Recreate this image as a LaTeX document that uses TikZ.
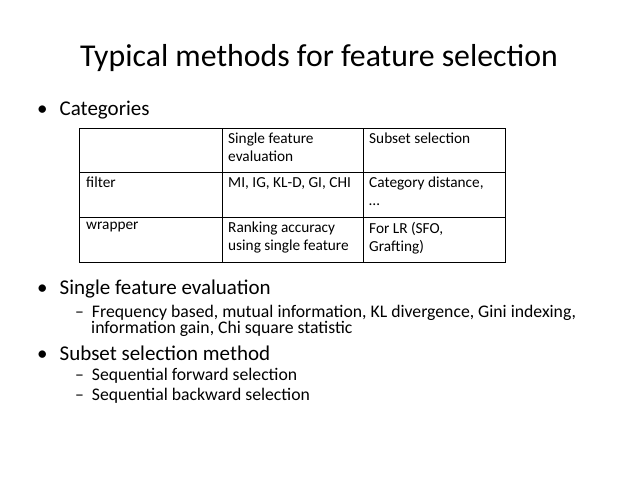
\documentclass[tikz,border=0pt]{standalone}
\usepackage{fontspec}
\setmainfont{Carlito}
\usetikzlibrary{positioning}

\begin{document}
\begin{tikzpicture}[x=1pt,y=-1pt,
    cell/.style={anchor=north west,align=left,font=\fontsize{15.3}{18}\selectfont,inner sep=0pt},
    bul/.style={anchor=west,inner sep=0pt,font=\fontsize{21}{25}\selectfont},
    sub/.style={anchor=west,inner sep=0pt,align=left,font=\fontsize{17.7}{20}\selectfont}]
  \useasboundingbox (0,0) rectangle (638,479);

  \node (title) at (319,58) {\fontsize{31.8}{36}\selectfont Typical methods for feature selection};

  % bullets
  \node[bul] (b1) at (37,110) {•\hspace{12pt}Categories};
  \node[bul] (b2) at (37,289) {•\hspace{12pt}Single feature evaluation};
  \node[sub] (s1) at (75,313) {–\hspace{8pt}Frequency based, mutual information, KL divergence, Gini indexing,};
  \node[sub] (s2) at (91,329) {information gain, Chi square statistic};
  \node[bul] (b3) at (37,353) {•\hspace{12pt}Subset selection method};
  \node[sub] (s3) at (75,376) {–\hspace{8pt}Sequential forward selection};
  \node[sub] (s4) at (75,396) {–\hspace{8pt}Sequential backward selection};

  % table
  \draw[semithick] (79,128) rectangle (505,262);
  \draw[semithick] (79,172) -- (505,172)  (79,217) -- (505,217);
  \draw[semithick] (222,128) -- (222,262)  (363,128) -- (363,262);

  \node[cell] (c12) at (228,133) {Single feature\\evaluation};
  \node[cell] (c13) at (369,133) {Subset selection};
  \node[cell] (c21) at (86,177) {filter};
  \node[cell] (c22) at (228,177) {MI, IG, KL-D, GI, CHI};
  \node[cell] (c23) at (369,177) {Category distance,\\…};
  \node[cell] (c31) at (86,222) {wrapper};
  \node[cell] (c32) at (228,222) {Ranking accuracy\\using single feature};
  \node[cell] (c33) at (369,222) {For LR (SFO,\\Grafting)};
\end{tikzpicture}
\end{document}
